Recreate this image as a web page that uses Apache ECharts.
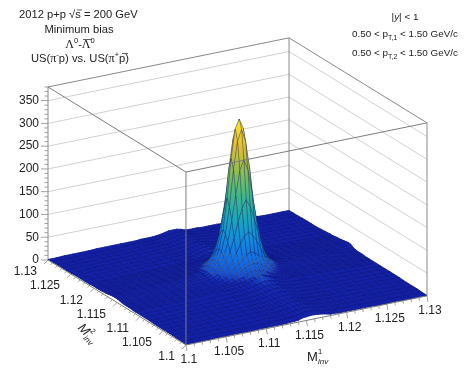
<!DOCTYPE html>
<html>
<head>
<meta charset="utf-8">
<style>
  html, body { margin: 0; padding: 0; background: #fff; }
  #chart { width: 474px; height: 385px; }
</style>
<script src="https://cdn.jsdelivr.net/npm/echarts@6/dist/echarts.min.js"></script>
</head>
<body>
<div id="chart"></div>
<script>
// bin edges, finer around the peak
const m1Edges = [1.1,1.101,1.102,1.103,1.104,1.105,1.106,1.107,1.108,1.109,1.11,1.111,
  1.1115,1.112,1.1125,1.113,1.1135,1.114,1.1145,1.115,1.1155,1.116,1.1165,1.117,1.1175,1.118,1.1185,1.119,1.1195,1.12,1.1205,1.121,
  1.122,1.123,1.124,1.125,1.126,1.127,1.128,1.129,1.13];
const m2Edges = m1Edges.slice();

const zTicks = [0,50,100,150,200,250,300,350];
const m1Ticks = [1.1,1.105,1.11,1.115,1.12,1.125,1.13];
const m2Ticks = [1.1,1.105,1.11,1.115,1.12,1.125,1.13];
const tickNames = ['1.1','1.105','1.11','1.115','1.12','1.125','1.13'];

// counts, one row per m2 edge
const zRows = [
[1,1,1,1,2,1,2,2,1,2,2,2,2,2,2,3,3,4,7,8,9,9,8,7,5,3,3,2,2,2,2,2,2,2,1,1,2,1,1,1,1],
[2,2,2,2,3,3,3,3,3,3,3,4,4,4,4,5,5,6,8,10,11,11,10,8,6,5,4,4,4,3,3,3,3,3,2,2,2,2,2,2,1],
[2,3,3,3,3,3,4,4,4,4,4,5,5,5,5,6,6,7,9,11,12,12,11,9,7,6,5,5,4,4,4,4,3,3,3,3,3,3,2,2,2],
[3,3,3,4,4,4,4,5,5,5,5,5,6,6,6,6,7,8,10,12,13,13,12,10,8,7,6,5,5,5,4,4,4,4,4,3,3,3,3,2,2],
[3,3,4,4,4,5,5,5,5,6,6,6,6,7,7,7,8,9,10,12,14,14,12,10,8,7,7,6,6,5,5,5,4,4,4,4,4,3,3,3,2],
[3,4,4,4,5,5,5,6,6,6,6,7,7,7,7,8,8,10,11,13,14,14,13,11,9,8,7,7,6,6,5,5,5,5,4,4,4,4,3,3,2],
[3,4,4,5,5,5,6,6,6,7,7,7,7,8,8,8,9,10,12,14,15,15,14,12,10,8,8,7,7,6,6,5,5,5,5,4,4,4,3,3,3],
[3,4,5,5,5,6,6,6,7,7,7,8,8,8,8,9,10,11,13,15,16,16,15,13,11,9,8,8,7,7,6,6,5,5,5,5,4,4,4,3,3],
[4,4,5,5,6,6,6,7,7,7,8,8,8,9,9,10,11,12,14,16,18,17,16,14,12,10,9,8,8,7,7,6,6,5,5,5,5,4,4,3,3],
[4,4,5,6,6,6,7,7,7,8,8,9,9,9,10,11,12,13,15,18,19,19,18,15,12,11,10,9,8,8,7,7,6,6,6,5,5,4,4,4,3],
[4,5,5,6,6,7,7,7,8,8,9,9,10,10,11,11,13,15,17,20,22,21,19,17,14,12,10,10,9,8,8,7,7,6,6,5,5,5,4,4,3],
[4,5,6,6,6,7,7,8,8,9,9,10,10,11,11,12,14,17,20,24,26,25,23,19,16,13,11,10,10,9,8,8,7,7,6,6,5,5,4,4,3],
[4,5,6,6,7,7,8,8,9,9,10,10,12,13,14,15,16,18,21,24,27,25,22,19,16,14,13,11,10,9,9,8,8,7,7,6,6,5,4,4,3],
[5,5,6,6,7,8,8,9,9,10,10,11,13,14,15,18,21,24,28,31,33,31,28,24,20,17,15,13,12,10,9,9,8,8,7,7,6,5,5,4,3],
[5,5,6,7,7,8,9,9,10,10,11,12,14,15,17,22,27,33,38,42,44,43,39,33,27,21,16,14,12,11,10,9,9,8,8,7,6,6,5,4,3],
[5,6,6,7,8,8,9,10,10,11,12,13,15,18,22,29,37,47,55,63,68,64,56,47,37,28,21,17,14,12,11,10,9,9,8,7,7,6,5,4,3],
[5,6,7,7,8,9,10,10,11,12,13,14,16,21,27,37,50,67,85,100,108,101,86,68,50,36,26,20,16,13,12,11,10,9,9,8,7,6,5,5,3],
[6,6,7,8,8,9,10,11,12,13,14,16,19,25,34,48,68,96,131,158,176,159,132,97,68,46,32,24,19,15,13,12,11,10,9,8,7,7,6,5,4],
[7,7,8,9,9,10,11,12,13,15,16,18,21,28,39,56,86,131,186,238,261,236,187,132,87,55,38,27,21,17,14,13,12,11,10,9,8,7,6,5,4],
[8,8,8,9,10,11,12,13,14,15,17,19,22,30,43,64,101,158,238,299,324,296,236,157,100,62,42,29,22,18,15,14,13,11,10,9,8,8,7,6,4],
[8,8,9,9,10,11,12,13,14,16,17,19,23,31,44,68,108,176,261,324,344,322,258,174,106,66,43,30,23,18,16,14,13,12,10,10,9,8,7,6,5],
[8,8,8,9,10,11,12,13,14,15,17,19,22,30,42,63,100,156,236,297,320,294,234,155,99,61,41,29,22,18,15,14,12,11,10,9,9,8,7,7,6],
[7,7,8,9,9,10,11,12,13,14,16,18,21,28,38,55,86,130,184,236,258,234,185,130,85,54,37,27,21,17,14,13,12,11,10,9,8,8,7,8,10],
[6,6,7,8,9,9,10,11,12,13,14,16,19,25,34,47,67,95,130,156,174,157,130,95,66,45,32,24,19,15,13,12,11,10,9,9,8,7,7,8,11],
[5,6,7,7,8,9,10,10,11,12,13,14,16,21,27,36,49,66,84,99,106,100,84,66,49,35,26,20,16,13,12,11,10,10,9,8,7,7,7,8,10],
[5,5,6,7,8,8,9,10,10,11,12,13,15,18,22,28,36,46,54,62,66,63,55,46,36,27,21,17,14,12,11,10,9,9,8,8,7,6,6,7,9],
[4,5,6,7,7,8,9,9,10,10,11,12,14,15,17,21,26,32,37,41,43,42,38,32,26,20,16,14,12,11,10,9,9,8,8,7,7,6,6,6,8],
[4,5,5,6,7,8,8,9,9,10,10,11,13,14,15,18,20,24,27,30,32,31,27,24,20,17,15,13,12,10,9,9,8,8,7,7,6,6,5,6,7],
[4,4,5,6,7,7,8,8,9,9,10,10,12,13,14,15,16,18,21,24,26,25,22,19,16,14,13,11,10,9,9,8,8,7,7,6,6,5,5,5,7],
[4,4,5,5,6,7,7,7,8,8,9,10,10,11,11,12,13,15,18,21,24,22,20,17,14,12,11,10,9,9,8,8,7,7,6,6,5,5,5,5,6],
[4,4,5,5,6,6,7,7,8,8,8,9,9,10,10,11,12,14,16,19,21,20,18,15,13,11,10,9,9,8,8,7,7,6,6,5,5,4,4,4,5],
[3,4,4,5,5,6,6,7,7,7,8,8,9,9,10,10,11,13,15,17,19,19,17,14,12,10,9,9,8,8,7,7,6,6,5,5,5,4,4,4,5],
[3,4,4,5,5,5,6,6,7,7,7,8,8,8,9,9,10,12,14,16,18,17,15,13,11,9,9,8,8,7,7,6,6,5,5,5,4,4,3,3,4],
[3,3,4,4,5,5,5,6,6,6,7,7,7,8,8,9,9,11,13,15,16,16,14,12,10,9,8,8,7,7,6,6,5,5,5,4,4,4,3,3,3],
[3,3,4,4,4,5,5,5,5,6,6,6,7,7,7,8,9,10,12,14,15,15,13,11,9,8,7,7,7,6,6,5,5,5,4,4,4,3,3,2,2],
[2,3,3,4,4,4,5,5,5,5,6,6,6,6,7,7,8,9,11,13,14,14,12,10,8,7,7,6,6,6,5,5,4,4,4,4,3,3,3,2,2],
[2,3,3,3,4,4,4,4,5,5,5,5,6,6,6,7,7,9,10,12,13,13,11,9,8,7,6,6,5,5,5,4,4,4,4,3,3,3,2,2,2],
[2,2,3,3,3,4,4,4,4,4,5,5,5,5,6,6,7,8,10,12,12,12,11,9,7,6,6,5,5,5,4,4,4,3,3,3,3,2,2,2,2],
[2,2,2,3,3,3,3,4,4,4,4,4,5,5,5,5,6,8,9,11,12,12,10,8,6,5,5,5,4,4,4,3,3,3,3,3,2,2,2,2,1],
[1,2,2,2,3,3,3,3,3,4,4,4,4,4,4,5,6,7,9,10,11,11,9,7,5,5,4,4,4,4,3,3,3,3,2,2,2,2,2,1,1],
[1,1,2,2,2,2,3,3,3,3,3,3,4,4,4,4,5,6,8,10,10,10,8,5,4,4,4,3,3,3,3,3,2,2,2,2,2,1,1,1,1]
];

const m1Range = [1.1, 1.13];
const m2Range = [1.1, 1.13];
const zMax = 380;

// height -> colour
const palette = [
  [0, [18,30,165]], [16, [20,38,178]], [26, [22,78,208]], [45, [20,104,224]], [80, [20,130,226]], [115, [24,154,208]],
  [155, [34,174,168]], [195, [78,186,126]], [240, [150,190,80]], [285, [226,188,48]], [320, [246,212,40]], [350, [250,236,30]]
];
function colorOf(z) {
  for (let k = 1; k < palette.length; k++) {
    if (z <= palette[k][0]) {
      const a = palette[k - 1], b = palette[k];
      const t = (z - a[0]) / (b[0] - a[0]);
      const c = a[1].map((v, n) => Math.round(v + (b[1][n] - v) * t));
      return 'rgb(' + c.join(',') + ')';
    }
  }
  return 'rgb(250,236,30)';
}

// oblique view: data units -> plane the hidden axes are scaled in
function toPlane(m1, m2, z) {
  const a = (m1 - m1Range[0]) / (m1Range[1] - m1Range[0]);
  const b = (m2 - m2Range[0]) / (m2Range[1] - m2Range[0]);
  return [0.364 + 0.636 * a - 0.364 * b, 0.16 * a + 0.277 * b + 0.5635 * z / zMax];
}

// cells from the back corner to the front one
const cells = [];
for (let j = m2Edges.length - 2; j >= 0; j--) {
  for (let i = m1Edges.length - 2; i >= 0; i--) cells.push([i, j]);
}

function renderCell(params, api) {
  const i = cells[params.dataIndex][0];
  const j = cells[params.dataIndex][1];
  const corners = [[i, j], [i + 1, j], [i + 1, j + 1], [i, j + 1]];
  const zs = corners.map((c) => zRows[c[1]][c[0]]);
  const pts = corners.map((c, n) => api.coord(toPlane(m1Edges[c[0]], m2Edges[c[1]], zs[n])));
  const lo = Math.min(...zs), hi = Math.max(...zs);
  let fill;
  if (hi - lo > 12) {
    fill = new echarts.graphic.LinearGradient(0, 0, 0, 1, [
      { offset: 0, color: colorOf(hi) },
      { offset: 0.5, color: colorOf((hi + lo) / 2) },
      { offset: 1, color: colorOf(lo) }
    ]);
  } else {
    fill = colorOf((hi + lo) / 2);
  }
  return {
    type: 'polygon',
    shape: { points: pts },
    style: { fill: fill, stroke: hi > 25 ? 'rgba(16,30,80,0.5)' : 'rgb(14,24,135)', lineWidth: hi > 25 ? 0.6 : 0.8 }
  };
}

// box edges and wall lines as [m1a, m2a, za, m1b, m2b, zb]
const x0 = m1Range[0], x1 = m1Range[1], y0 = m2Range[0], y1 = m2Range[1];
const wallLines = [];
zTicks.slice(1).forEach((z) => {
  wallLines.push([x0, y1, z, x1, y1, z]);
  wallLines.push([x1, y1, z, x1, y0, z]);
});
const backEdges = [
  [x0, y1, zMax, x1, y1, zMax], [x1, y1, zMax, x1, y0, zMax],
  [x1, y1, 0, x1, y1, zMax], [x0, y1, 0, x1, y1, 0], [x1, y1, 0, x1, y0, 0],
  [x1, y0, 0, x1, y0, zMax], [x0, y1, 0, x0, y1, zMax]
];
const frontEdges = [
  [x0, y0, 0, x0, y0, zMax], [x0, y0, zMax, x1, y0, zMax], [x0, y0, zMax, x0, y1, zMax],
  [x0, y0, 0, x1, y0, 0], [x0, y0, 0, x0, y1, 0]
];

function segmentSeries(segs, color, width, z) {
  return {
    type: 'custom', coordinateSystem: 'cartesian2d', z: z, silent: true, clip: false,
    data: segs.map((s, n) => [n, 0]),
    renderItem(params, api) {
      const s = segs[params.dataIndex];
      const a = api.coord(toPlane(s[0], s[1], s[2]));
      const b = api.coord(toPlane(s[3], s[4], s[5]));
      return { type: 'line', shape: { x1: a[0], y1: a[1], x2: b[0], y2: b[1] }, style: { stroke: color, lineWidth: width } };
    }
  };
}

// ticks: [m1, m2, z, dx, dy] with the offset in pixels
const ticks = [];
for (let z = 0; z <= zMax; z += 10) {
  const major = z % 50 === 0;
  ticks.push([x0, y1, z, major ? -7 : -3.5, 0]);
}
for (let n = 0; n <= 30; n++) {
  const major = n % 5 === 0;
  ticks.push([x0 + n * 0.001, y0, 0, major ? 1 : 0.5, major ? 6 : 3]);
  ticks.push([x0, y0 + n * 0.001, 0, major ? -4 : -2, major ? 4 : 2]);
}

const labels = [];
zTicks.forEach((z) => labels.push([x0, y1, z, -9, 0, String(z), 'right']));
m1Ticks.forEach((m, n) => labels.push([m, y0, 0, 3, 15, tickNames[n], 'center']));
m2Ticks.forEach((m, n) => labels.push([x0, m, 0, -11, 12, tickNames[n], 'right']));

const font = '"Liberation Sans", Arial, sans-serif';
const serif = '"Liberation Serif", serif';
const ink = '#222';

function txt(x, y, text, rich, align) {
  return {
    type: 'text', x: x, y: y, z: 10, silent: true,
    style: {
      text: text, rich: rich, fill: ink, font: '11px ' + font,
      align: align || 'center', verticalAlign: 'middle'
    }
  };
}
const richTop = {
  n: { fontSize: 11.2, fontFamily: font, fill: ink, lineHeight: 16 },
  g: { fontSize: 12, fontFamily: serif, fill: ink, lineHeight: 16 },
  sup: { fontSize: 7.5, fontFamily: font, fill: ink, lineHeight: 16, verticalAlign: 'top' },
  s: { fontSize: 9.9, fontFamily: font, fill: ink, lineHeight: 15 },
  sub: { fontSize: 7, fontFamily: font, fill: ink, lineHeight: 15, verticalAlign: 'bottom' },
  it: { fontSize: 9.9, fontFamily: font, fontStyle: 'italic', fill: ink, lineHeight: 15 }
};

function overline(xa, xb, y) {
  return { type: 'line', z: 10, silent: true, shape: { x1: xa, y1: y, x2: xb, y2: y }, style: { stroke: ink, lineWidth: 0.7 } };
}

const graphics = [
  txt(19, 14.5, '{n|2012 p+p \u221As = 200 GeV}', richTop, 'left'),
  overline(77, 82, 10),
  txt(79, 30, '{n|Minimum bias}', richTop),
  txt(80, 45, '{g|\u039B}{sup|0}{n|-}{g|\u039B}{sup|0}', richTop),
  overline(83, 92, 39.5),
  txt(80, 58.5, '{n|US(}{g|\u03C0}{sup|-}{n|p) vs. US(}{g|\u03C0}{sup|+}{n|p)}', richTop),
  overline(122, 128, 53.5),
  txt(405, 17, '{s||}{it|y}{s|| < 1}', richTop),
  txt(352, 34, '{s|0.50 < p}{sub|T,1}{s| < 1.50 GeV/c}', richTop, 'left'),
  txt(352, 53, '{s|0.50 < p}{sub|T,2}{s| < 1.50 GeV/c}', richTop, 'left'),
  {
    type: 'group', x: 317, y: 357, z: 10, silent: true,
    children: [
      { type: 'text', x: -10, y: 0, style: { text: 'M', fill: ink, font: '13px ' + font, verticalAlign: 'middle' } },
      { type: 'text', x: 1, y: -5, style: { text: '1', fill: ink, font: '7.5px ' + font, verticalAlign: 'middle' } },
      { type: 'text', x: 1, y: 5, style: { text: 'inv', fill: ink, font: 'italic 8px ' + font, verticalAlign: 'middle' } }
    ]
  },
  {
    type: 'group', x: 87, y: 333, rotation: -0.78, z: 10, silent: true,
    children: [
      { type: 'text', x: -10, y: 0, style: { text: 'M', fill: ink, font: 'italic 13px ' + font, verticalAlign: 'middle' } },
      { type: 'text', x: 1, y: -5, style: { text: '2', fill: ink, font: '7.5px ' + font, verticalAlign: 'middle' } },
      { type: 'text', x: 1, y: 5, style: { text: 'inv', fill: ink, font: 'italic 8px ' + font, verticalAlign: 'middle' } }
    ]
  }
];

const option = {
  animation: false,
  backgroundColor: '#fff',
  grid: { left: 48, right: 47, top: 38, bottom: 40 },
  xAxis: { type: 'value', min: 0, max: 1, show: false },
  yAxis: { type: 'value', min: 0, max: 1, show: false },
  graphic: graphics,
  series: [
    segmentSeries(wallLines, '#d2d2d2', 1, 1),
    segmentSeries(backEdges, '#8a8a8a', 1, 2),
    {
      type: 'custom', coordinateSystem: 'cartesian2d', z: 3, silent: true, clip: false,
      progressive: 0,
      data: cells,
      renderItem: renderCell
    },
    segmentSeries(frontEdges, '#7d7d7d', 1, 4),
    {
      type: 'custom', coordinateSystem: 'cartesian2d', z: 5, silent: true, clip: false,
      data: ticks.map((t, n) => [n, 0]),
      renderItem(params, api) {
        const t = ticks[params.dataIndex];
        const a = api.coord(toPlane(t[0], t[1], t[2]));
        return { type: 'line', shape: { x1: a[0], y1: a[1], x2: a[0] + t[3], y2: a[1] + t[4] }, style: { stroke: '#8a8a8a', lineWidth: 0.8 } };
      }
    },
    {
      type: 'custom', coordinateSystem: 'cartesian2d', z: 6, silent: true, clip: false,
      data: labels.map((t, n) => [n, 0]),
      renderItem(params, api) {
        const t = labels[params.dataIndex];
        const a = api.coord(toPlane(t[0], t[1], t[2]));
        return {
          type: 'text', x: a[0] + t[3], y: a[1] + t[4],
          style: { text: t[5], fill: ink, font: '12px ' + font, align: t[6], verticalAlign: 'middle' }
        };
      }
    }
  ]
};

const myChart = echarts.init(document.getElementById('chart'), null, { renderer: 'canvas' });
myChart.setOption(option);
</script>
</body>
</html>
